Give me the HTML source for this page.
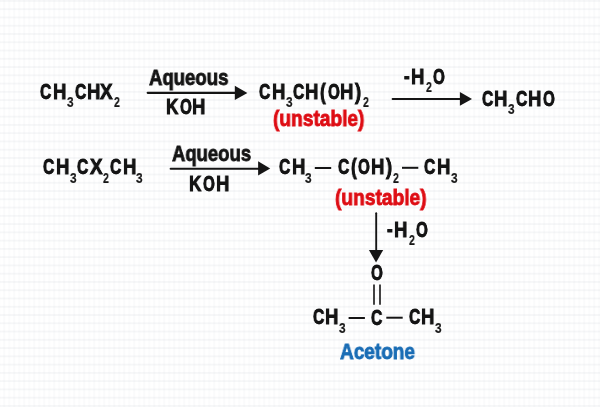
<!DOCTYPE html>
<html><head><meta charset="utf-8">
<style>
html,body{margin:0;padding:0;}
body{width:600px;height:407px;overflow:hidden;position:relative;background:#fff;
font-family:"Liberation Sans",sans-serif;font-weight:bold;color:#151515;}
.grid{position:absolute;left:-6px;top:-6px;width:612px;height:419px;
background-image:
linear-gradient(to bottom, rgba(200,205,212,0.16) 2px, transparent 2px),
linear-gradient(to right, rgba(200,205,212,0.09) 2px, transparent 2px),
linear-gradient(to right, rgba(200,205,212,0.07) 2px, transparent 2px);
background-size:600px 8.28px, 10px 407px, 10px 407px;
background-position:0 calc(0px + 6px), 9.2px 0, calc(9.2px + 5px) 0;}
.t{position:absolute;white-space:nowrap;line-height:1;transform-origin:0 0;will-change:transform;-webkit-text-stroke:0.85px currentColor;}
.g{position:absolute;white-space:nowrap;transform-origin:0 0;will-change:transform;-webkit-text-stroke:0.85px currentColor;text-shadow:0.35px 0 0 currentColor,-0.35px 0 0 currentColor;}
.gs{-webkit-text-stroke-width:0.2px;text-shadow:none;}
.r{color:#de0d14;}
.b{color:#1a6db5;}
svg{position:absolute;left:0;top:0;}
</style></head><body>
<div class="grid"></div>

<div class="t" id="aq1" style="left:148.78px;top:66.99px;font-size:22.00px;transform:scaleX(0.8431)">Aqueous</div>
<div class="t" id="aq2" style="left:172.00px;top:142.87px;font-size:22.00px;transform:scaleX(0.8393)">Aqueous</div>
<div class="t r" id="un1" style="left:272.95px;top:108.35px;font-size:22.00px;transform:scaleX(0.8699)">(unstable)</div>
<div class="t r" id="un2" style="left:334.52px;top:186.72px;font-size:22.00px;transform:scaleX(0.8716)">(unstable)</div>
<div class="t b" id="ac" style="left:340.25px;top:340.54px;font-size:22.00px;transform:scaleX(0.8643)">Acetone</div>
<div id="f1" style="position:absolute;left:0;top:0"><div class="g" style="left:40.30px;top:80.95px;font-size:22.0px;line-height:22.0px;transform:scaleX(0.7063)">C</div><div class="g" style="left:53.06px;top:80.95px;font-size:22.0px;line-height:22.0px;transform:scaleX(0.8357)">H</div><div class="g gs" style="left:66.50px;top:96.22px;font-size:13.8px;line-height:13.8px;transform:scaleX(0.8616)">3</div><div class="g" style="left:74.50px;top:80.95px;font-size:22.0px;line-height:22.0px;transform:scaleX(0.7063)">C</div><div class="g" style="left:86.96px;top:80.95px;font-size:22.0px;line-height:22.0px;transform:scaleX(0.8357)">H</div><div class="g" style="left:99.68px;top:80.95px;font-size:22.0px;line-height:22.0px;transform:scaleX(0.8524)">X</div><div class="g gs" style="left:114.10px;top:96.22px;font-size:13.8px;line-height:13.8px;transform:scaleX(0.7671)">2</div></div>
<div id="f2" style="position:absolute;left:0;top:0"><div class="g" style="left:259.20px;top:80.75px;font-size:22.0px;line-height:22.0px;transform:scaleX(0.7063)">C</div><div class="g" style="left:272.06px;top:80.75px;font-size:22.0px;line-height:22.0px;transform:scaleX(0.8357)">H</div><div class="g gs" style="left:285.50px;top:96.02px;font-size:13.8px;line-height:13.8px;transform:scaleX(0.8616)">3</div><div class="g" style="left:293.30px;top:80.75px;font-size:22.0px;line-height:22.0px;transform:scaleX(0.7063)">C</div><div class="g" style="left:305.41px;top:80.75px;font-size:22.0px;line-height:22.0px;transform:scaleX(0.8357)">H</div><div class="g" style="left:319.52px;top:80.75px;font-size:22.0px;line-height:22.0px;transform:scaleX(0.7727)">(</div><div class="g" style="left:327.90px;top:80.75px;font-size:22.0px;line-height:22.0px;transform:scaleX(0.6882)">O</div><div class="g" style="left:340.41px;top:80.75px;font-size:22.0px;line-height:22.0px;transform:scaleX(0.8357)">H</div><div class="g" style="left:355.23px;top:80.75px;font-size:22.0px;line-height:22.0px;transform:scaleX(0.8093)">)</div><div class="g gs" style="left:362.50px;top:96.02px;font-size:13.8px;line-height:13.8px;transform:scaleX(0.7671)">2</div></div>
<div id="f3" style="position:absolute;left:0;top:0"><div class="g" style="left:481.80px;top:87.95px;font-size:22.0px;line-height:22.0px;transform:scaleX(0.7063)">C</div><div class="g" style="left:494.36px;top:87.95px;font-size:22.0px;line-height:22.0px;transform:scaleX(0.8357)">H</div><div class="g gs" style="left:507.80px;top:103.22px;font-size:13.8px;line-height:13.8px;transform:scaleX(0.8616)">3</div><div class="g" style="left:515.90px;top:87.95px;font-size:22.0px;line-height:22.0px;transform:scaleX(0.7063)">C</div><div class="g" style="left:528.06px;top:87.95px;font-size:22.0px;line-height:22.0px;transform:scaleX(0.8357)">H</div><div class="g" style="left:543.10px;top:87.95px;font-size:22.0px;line-height:22.0px;transform:scaleX(0.6882)">O</div></div>
<div id="f4" style="position:absolute;left:0;top:0"><div class="g" style="left:43.30px;top:156.35px;font-size:22.0px;line-height:22.0px;transform:scaleX(0.7063)">C</div><div class="g" style="left:55.86px;top:156.35px;font-size:22.0px;line-height:22.0px;transform:scaleX(0.8357)">H</div><div class="g gs" style="left:69.50px;top:171.62px;font-size:13.8px;line-height:13.8px;transform:scaleX(0.8616)">3</div><div class="g" style="left:77.10px;top:156.35px;font-size:22.0px;line-height:22.0px;transform:scaleX(0.7063)">C</div><div class="g" style="left:90.08px;top:156.35px;font-size:22.0px;line-height:22.0px;transform:scaleX(0.8524)">X</div><div class="g gs" style="left:103.00px;top:171.62px;font-size:13.8px;line-height:13.8px;transform:scaleX(0.7671)">2</div><div class="g" style="left:109.80px;top:156.35px;font-size:22.0px;line-height:22.0px;transform:scaleX(0.7063)">C</div><div class="g" style="left:122.96px;top:156.35px;font-size:22.0px;line-height:22.0px;transform:scaleX(0.8357)">H</div><div class="g gs" style="left:136.30px;top:171.62px;font-size:13.8px;line-height:13.8px;transform:scaleX(0.8616)">3</div></div>
<div id="f5" style="position:absolute;left:0;top:0"><div class="g" style="left:279.30px;top:156.25px;font-size:22.0px;line-height:22.0px;transform:scaleX(0.7063)">C</div><div class="g" style="left:291.76px;top:156.25px;font-size:22.0px;line-height:22.0px;transform:scaleX(0.8357)">H</div><div class="g gs" style="left:305.30px;top:171.52px;font-size:13.8px;line-height:13.8px;transform:scaleX(0.8616)">3</div></div>
<div id="f6" style="position:absolute;left:0;top:0"><div class="g" style="left:337.70px;top:156.45px;font-size:22.0px;line-height:22.0px;transform:scaleX(0.7063)">C</div><div class="g" style="left:350.82px;top:156.45px;font-size:22.0px;line-height:22.0px;transform:scaleX(0.7727)">(</div><div class="g" style="left:358.00px;top:156.45px;font-size:22.0px;line-height:22.0px;transform:scaleX(0.6882)">O</div><div class="g" style="left:370.66px;top:156.45px;font-size:22.0px;line-height:22.0px;transform:scaleX(0.8357)">H</div><div class="g" style="left:385.73px;top:156.45px;font-size:22.0px;line-height:22.0px;transform:scaleX(0.8093)">)</div><div class="g gs" style="left:392.90px;top:171.72px;font-size:13.8px;line-height:13.8px;transform:scaleX(0.7671)">2</div></div>
<div id="f7" style="position:absolute;left:0;top:0"><div class="g" style="left:424.40px;top:156.25px;font-size:22.0px;line-height:22.0px;transform:scaleX(0.7063)">C</div><div class="g" style="left:436.86px;top:156.25px;font-size:22.0px;line-height:22.0px;transform:scaleX(0.8357)">H</div><div class="g gs" style="left:450.50px;top:171.52px;font-size:13.8px;line-height:13.8px;transform:scaleX(0.8616)">3</div></div>
<div id="f8" style="position:absolute;left:0;top:0"><div class="g" style="left:312.80px;top:306.25px;font-size:22.0px;line-height:22.0px;transform:scaleX(0.7063)">C</div><div class="g" style="left:325.16px;top:306.25px;font-size:22.0px;line-height:22.0px;transform:scaleX(0.8357)">H</div><div class="g gs" style="left:339.20px;top:321.52px;font-size:13.8px;line-height:13.8px;transform:scaleX(0.8616)">3</div></div>
<div id="c" style="position:absolute;left:0;top:0"><div class="g" style="left:371.25px;top:306.55px;font-size:22.0px;line-height:22.0px;transform:scaleX(0.7063)">C</div></div>
<div id="f9" style="position:absolute;left:0;top:0"><div class="g" style="left:408.80px;top:306.45px;font-size:22.0px;line-height:22.0px;transform:scaleX(0.7063)">C</div><div class="g" style="left:420.86px;top:306.45px;font-size:22.0px;line-height:22.0px;transform:scaleX(0.8357)">H</div><div class="g gs" style="left:435.20px;top:321.72px;font-size:13.8px;line-height:13.8px;transform:scaleX(0.8616)">3</div></div>
<div id="o" style="position:absolute;left:0;top:0"><div class="g" style="left:370.60px;top:262.15px;font-size:22.0px;line-height:22.0px;transform:scaleX(0.6882)">O</div></div>
<div id="h2o1" style="position:absolute;left:0;top:0"><div class="g" style="left:403.90px;top:64.65px;font-size:22.0px;line-height:22.0px;transform:scaleX(0.7714)">-</div><div class="g" style="left:411.06px;top:65.65px;font-size:22.0px;line-height:22.0px;transform:scaleX(0.8357)">H</div><div class="g gs" style="left:425.60px;top:80.92px;font-size:13.8px;line-height:13.8px;transform:scaleX(0.7671)">2</div><div class="g" style="left:432.70px;top:65.65px;font-size:22.0px;line-height:22.0px;transform:scaleX(0.6882)">O</div></div>
<div id="h2o2" style="position:absolute;left:0;top:0"><div class="g" style="left:387.00px;top:218.15px;font-size:22.0px;line-height:22.0px;transform:scaleX(0.7714)">-</div><div class="g" style="left:394.36px;top:219.15px;font-size:22.0px;line-height:22.0px;transform:scaleX(0.8357)">H</div><div class="g gs" style="left:408.70px;top:234.42px;font-size:13.8px;line-height:13.8px;transform:scaleX(0.7671)">2</div><div class="g" style="left:415.80px;top:219.15px;font-size:22.0px;line-height:22.0px;transform:scaleX(0.6882)">O</div></div>
<div id="koh1" style="position:absolute;left:0;top:0"><div class="g" style="left:166.12px;top:96.45px;font-size:22.0px;line-height:22.0px;transform:scaleX(0.7781)">K</div><div class="g" style="left:179.80px;top:96.45px;font-size:22.0px;line-height:22.0px;transform:scaleX(0.6882)">O</div><div class="g" style="left:192.46px;top:96.45px;font-size:22.0px;line-height:22.0px;transform:scaleX(0.8357)">H</div></div>
<div id="koh2" style="position:absolute;left:0;top:0"><div class="g" style="left:189.42px;top:172.85px;font-size:22.0px;line-height:22.0px;transform:scaleX(0.7781)">K</div><div class="g" style="left:203.10px;top:172.85px;font-size:22.0px;line-height:22.0px;transform:scaleX(0.6882)">O</div><div class="g" style="left:215.76px;top:172.85px;font-size:22.0px;line-height:22.0px;transform:scaleX(0.8357)">H</div></div>
<svg id="shapes" width="600" height="407" viewBox="0 0 600 407">
<line x1="147.70" y1="92.8" x2="235.8" y2="92.8" stroke="#151515" stroke-width="2.2" stroke-linecap="round"/>
<polygon points="234.8,85.8 247.4,92.9 234.8,100" fill="#151515"/>
<line x1="392.60" y1="99" x2="460.9" y2="99" stroke="#151515" stroke-width="2" stroke-linecap="round"/>
<polygon points="459.9,92.1 472,98.94999999999999 459.9,105.8" fill="#151515"/>
<line x1="170.60" y1="168.8" x2="259.1" y2="168.8" stroke="#151515" stroke-width="2" stroke-linecap="round"/>
<polygon points="258.1,161.3 270.2,168.45 258.1,175.6" fill="#151515"/>
<line x1="376.2" y1="213.15" x2="376.2" y2="251" stroke="#151515" stroke-width="1.9" stroke-linecap="round"/>
<polygon points="368.9,250 383.2,250 376.04999999999995,262.4" fill="#151515"/>
<line x1="314.8" y1="168" x2="331.2" y2="168" stroke="#151515" stroke-width="2"/>
<line x1="402" y1="167.8" x2="418.3" y2="167.8" stroke="#151515" stroke-width="2"/>
<line x1="348.6" y1="318" x2="364.9" y2="318" stroke="#151515" stroke-width="2"/>
<line x1="386.3" y1="317.7" x2="402.7" y2="317.7" stroke="#151515" stroke-width="2"/>
<line x1="374" y1="284.6" x2="374" y2="304.8" stroke="#151515" stroke-width="1.6"/>
<line x1="380" y1="284.6" x2="380" y2="304.8" stroke="#151515" stroke-width="1.6"/>
</svg>
</body></html>
